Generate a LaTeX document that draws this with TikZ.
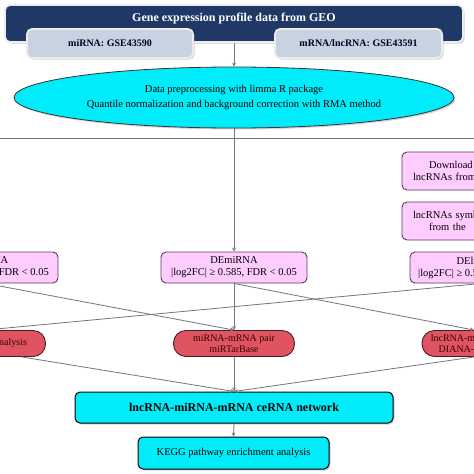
\documentclass[tikz,border=0pt]{standalone}
\usepackage{fontspec}
\setmainfont{Liberation Serif}
\usepackage{tikz}
\usetikzlibrary{shapes.geometric,shadows}
\definecolor{geonavy}{RGB}{31,56,102}
\definecolor{seriesgray}{RGB}{200,210,224}
\definecolor{stepcyan}{RGB}{0,236,250}
\definecolor{filterpink}{RGB}{255,204,255}
\definecolor{filterrim}{RGB}{88,58,88}
\definecolor{pairred}{RGB}{224,84,98}
\definecolor{pairrim}{RGB}{70,30,40}
\definecolor{linkgray}{RGB}{118,118,118}

\begin{document}
\begin{tikzpicture}[x=1pt,y=-1pt,>=stealth,
		link/.style={draw=linkgray,line width=0.8pt},
		rimbox/.style={rectangle,rounded corners=5pt,draw=white!85!gray,line width=1.8pt,
			drop shadow={shadow xshift=1.5pt,shadow yshift=-1.5pt,fill=black!35}},
		navybox/.style={rimbox,fill=geonavy,text=white,font=\fontsize{12}{14}\selectfont\bfseries},
		seriesbox/.style={rimbox,fill=seriesgray,text=black!85!blue,minimum width=166pt,minimum height=29pt,
			font=\fontsize{10}{12}\selectfont\bfseries},
		prepell/.style={ellipse,fill=stepcyan,draw=black!80,line width=0.8pt,inner sep=0pt,
			minimum width=440pt,minimum height=61pt,align=center,font=\fontsize{10.5}{15}\selectfont,
			drop shadow={shadow xshift=1.5pt,shadow yshift=-1.5pt,fill=black!35}},
		debox/.style={rectangle,rounded corners=5pt,fill=filterpink,draw=filterrim,line width=0.9pt,
			minimum width=146pt,minimum height=31pt,align=center,font=\fontsize{10.5}{12}\selectfont},
		dlbox/.style={debox,minimum width=160pt,minimum height=38pt,inner xsep=0pt,text width=138pt,align=left},
		pairell/.style={rectangle,rounded corners=12.5pt,fill=pairred,draw=pairrim,line width=0.9pt,
			minimum width=121pt,minimum height=26pt,inner ysep=1pt,align=center,text=black!80!red,
			font=\fontsize{10}{11}\selectfont},
		cebox/.style={rectangle,rounded corners=5pt,fill=stepcyan,draw=black,line width=1pt,
			drop shadow={shadow xshift=1.5pt,shadow yshift=-1.5pt,fill=black!35}}
	]
	\useasboundingbox[fill=white] (0,0) rectangle (474,474);
	\clip (0,0) rectangle (474,474);
	
	\node[navybox,minimum width=458pt,text height=12pt,text depth=17pt,inner ysep=4pt] (geo) at (234,23.5) {Gene expression profile data from GEO};
	\node[seriesbox] (mir) at (110,43.5) {miRNA: GSE43590};
	\node[seriesbox,minimum width=167pt] (mlnc) at (358.5,43.5) {mRNA/lncRNA: GSE43591};
	
	\node[prepell] (prep) at (234,97.5) {Data preprocessing with limma R package\\Quantile normalization and background correction with RMA method};
	\coordinate (hl) at (-10,138);
	\coordinate (hr) at (484,138);
	
	\node[dlbox] (dl) at (482,171) {\hspace*{16pt}Download\\lncRNAs from};
	\node[dlbox] (sym) at (482,221) {lncRNAs symbol\\\hspace*{16pt}from the};
	
	\node[debox,minimum width=144pt] (dem) at (-14,267.5) {DEmRNA\\|log2FC| ≥ 0.585, FDR < 0.05};
	\node[debox] (demi) at (234,267.5) {DEmiRNA\\|log2FC| ≥ 0.585, FDR < 0.05};
	\node[debox,minimum width=142pt] (deln) at (481,267.5) {DElncRNA\\|log2FC| ≥ 0.585, FDR < 0.05};
	
	\node[pairell,text width=84pt,align=right] (corr) at (-15,343.5) {analysis};
	\node[pairell] (pair) at (234,343.5) {miRNA-mRNA pair\\miRTarBase};
	\node[pairell,minimum width=104pt] (lpair) at (474,343.5) {lncRNA-miRNA pair\\DIANA-LncBase};
	
	\node[cebox,minimum width=318pt,minimum height=31pt,font=\fontsize{12}{14}\selectfont\bfseries] (ce) at (234,407.5) {lncRNA-miRNA-mRNA ceRNA network};
	\node[cebox,minimum width=191pt,minimum height=32pt,font=\fontsize{10.5}{12}\selectfont] (kegg) at (233.5,453) {KEGG pathway enrichment analysis};
	
	\draw[link,->] (geo.south) -- (prep.north);
	\draw[link] (hl) -- (hr);
	\draw[link,->] (prep.south) -- (demi.north);
	\foreach \a/\b in {dem/pair,demi/pair,demi/lpair,deln/corr,pair/ce,lpair/ce,ce/kegg}
	\draw[link,->] (\a.south) -- (\b.north);
	\draw[link,->] (corr.-20) -- (ce.north);
\end{tikzpicture}
\end{document}
